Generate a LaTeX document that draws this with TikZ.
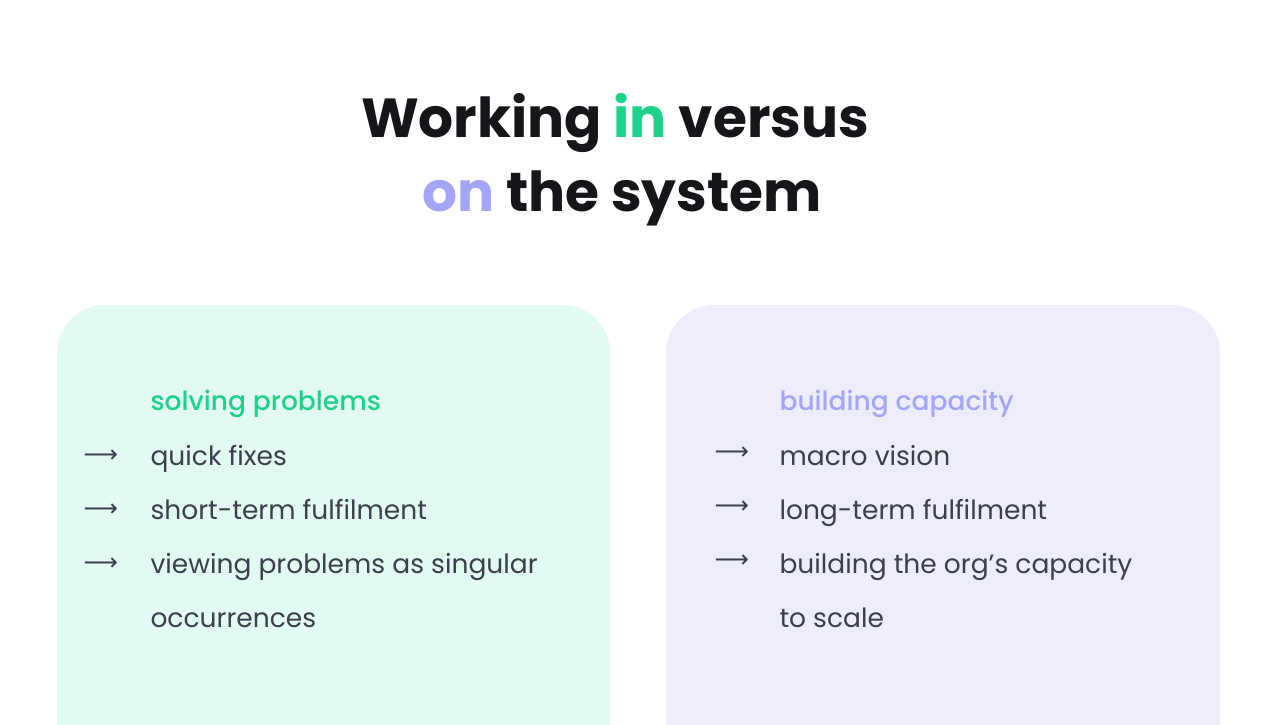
\documentclass[tikz,border=0pt]{standalone}
\usepackage{fontspec}
\setmainfont{Poppins}
\newfontfamily\arr{DejaVu Sans}
\definecolor{grn}{HTML}{1ED28C}
\definecolor{lav}{HTML}{A3A5F7}
\definecolor{ink}{HTML}{15161A}
\definecolor{body}{HTML}{3C3F4C}
\definecolor{gbg}{HTML}{E3FAF2}
\definecolor{pbg}{HTML}{EEEDFC}
\begin{document}
\begin{tikzpicture}[x=1pt,y=-1pt,
  title/.style={font=\fontsize{55}{62}\selectfont\bfseries, text=ink, anchor=base},
  head/.style={font=\fontsize{26.5}{30}\selectfont\fontspec{Poppins Medium}, anchor=base west},
  item/.style={font=\fontsize{26.5}{30}\selectfont, text=body, anchor=base west},
  arrw/.style={font=\arr\fontsize{24}{28}\selectfont, text=body, anchor=base west},
  panel/.style={rounded corners=48pt}]
\useasboundingbox (0,0) rectangle (1280,724);
\fill[white] (0,0) rectangle (1280,724);
\fill[gbg,panel] (57,305) rectangle (610,780);
\fill[pbg,panel] (666,305) rectangle (1220,780);
\node[title] (t1) at (615,137) {Working \textcolor{grn}{in} versus};
\node[title] (t2) at (622,211) {\textcolor{lav}{on} the system};
\node[head,text=grn] (h1) at (147,410) {solving problems};
\node[head,text=lav] (h2) at (776,410) {building capacity};
\foreach \y/\t [count=\i] in {465/quick fixes,519/short-term fulfilment,573/viewing problems as singular,627/occurrences}
  \node[item] (l\i) at (147,\y) {\t};
\foreach \y/\t [count=\i] in {465/macro vision,519/long-term fulfilment,573/building the org\symbol{39}s capacity,627/to scale}
  \node[item] (r\i) at (776,\y) {\t};
\foreach \y [count=\i] in {462,516,570}{
  \node[arrw] (la\i) at (80,\y) {⟶};
  \node[arrw] (ra\i) at (711,\y-3) {⟶};}
\end{tikzpicture}
\end{document}
